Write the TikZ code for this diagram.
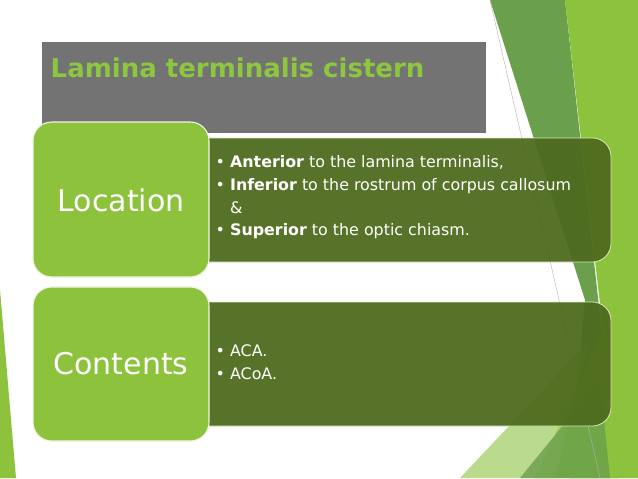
\documentclass[tikz,border=0pt]{standalone}
\usepackage{fontspec}
\setmainfont{DejaVu Sans}
\definecolor{bright}{HTML}{8DC33C}
\definecolor{midg}{HTML}{6A9F4C}
\definecolor{lightg}{HTML}{A9D171}
\definecolor{darkbox}{HTML}{4E6B1E}
\definecolor{titleg}{HTML}{8DC63F}
\definecolor{grayt}{HTML}{737373}
\tikzset{
  lbox/.style={fill=bright, draw=white!85!bright, line width=0.8pt, rounded corners=14pt},
  dbox/.style={fill=darkbox, draw=white!70!bright, line width=0.6pt, rounded corners=14pt, opacity=0.95},
  bigtxt/.style={text=white, font=\fontsize{22.5}{27}\selectfont},
  bul/.style={text=white, anchor=north west, align=left, font=\fontsize{11.9}{17}\selectfont}
}
\begin{document}
\begin{tikzpicture}[x=0.75pt,y=-0.75pt]
\useasboundingbox (0,0) rectangle (638,478);
\fill[white] (0,0) rectangle (638,478);
% background decoration
\fill[midg] (490,0) -- (565,0) -- (618,478) -- (570,478) -- (585,300) -- cycle;
\fill[bright] (565,0) -- (638,0) -- (638,478) -- (535,478) -- (603,330) -- cycle;
\fill[lightg,opacity=0.8] (460,478) -- (590,340) -- (555,478) -- cycle;
\fill[midg,opacity=0.8] (520,478) -- (600,380) -- (610,478) -- cycle;
\draw[gray!60,line width=0.3pt] (490,0) -- (600,478);
\fill[bright] (0,290) -- (16,478) -- (0,478) -- cycle;
% title
\fill[grayt] (42,42) rectangle (486,133);
\node[anchor=west, text=titleg, font=\bfseries\fontsize{19.5}{23}\selectfont] (title) at (46,68) {Lamina terminalis cistern};
% boxes
\draw[dbox] (190,138) rectangle (611,262);
\draw[dbox] (190,302) rectangle (611,426);
\draw[lbox] (33,122) rectangle (209,277);
\draw[lbox] (33,287) rectangle (209,441);
\node[bigtxt] (loc) at (121,200) {Location};
\node[bigtxt] (cont) at (121,364) {Contents};
\node[bul] (b1) at (211,151) {\textbullet\ \textbf{Anterior} to the lamina terminalis,\\
\textbullet\ \textbf{Inferior} to the rostrum of corpus callosum\\
\phantom{\textbullet\ }\&\\
\textbullet\ \textbf{Superior} to the optic chiasm.};
\node[bul] (b2) at (211,340) {\textbullet\ ACA.\\ \textbullet\ ACoA.};
\end{tikzpicture}
\end{document}
